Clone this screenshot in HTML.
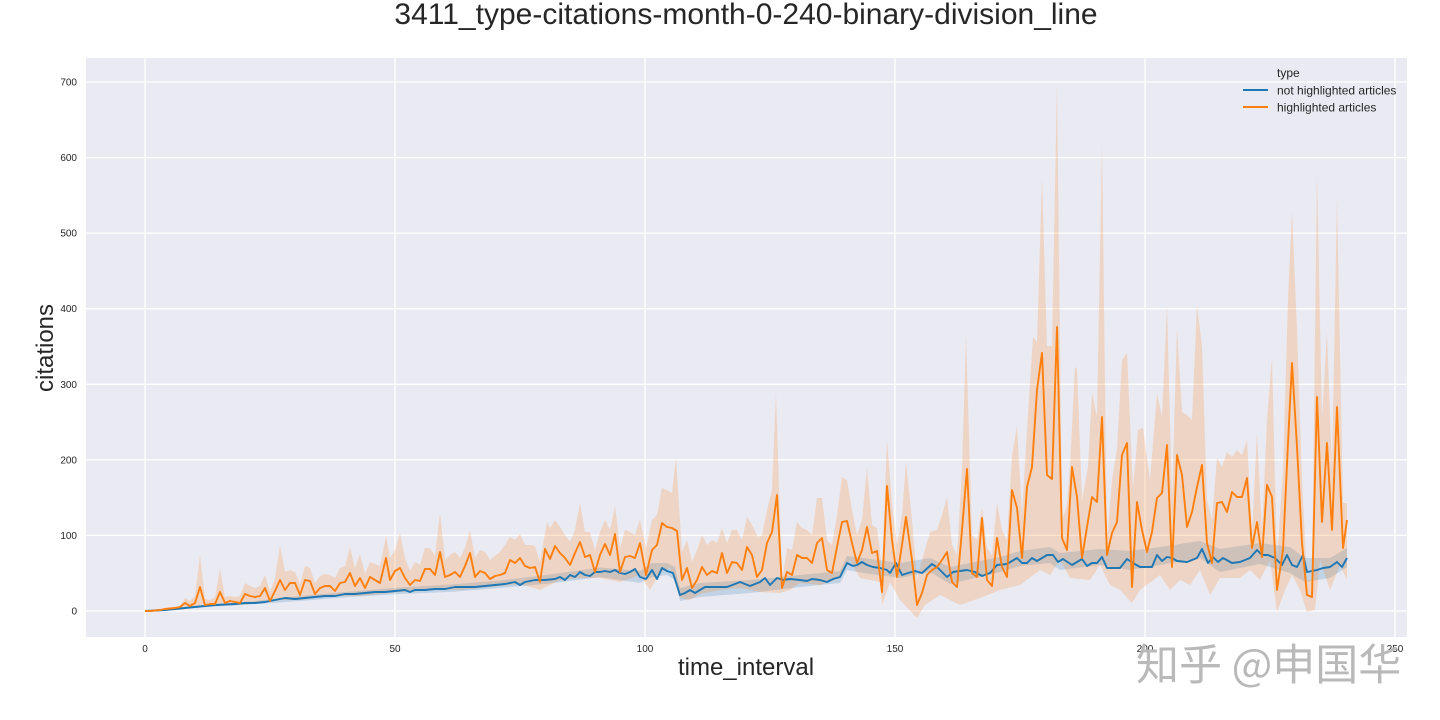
<!DOCTYPE html>
<html>
<head>
<meta charset="utf-8">
<style>
html,body{margin:0;padding:0;background:#fff;}
svg{display:block;}
text{font-family:"Liberation Sans",Arial,sans-serif;fill:#262626;}
</style>
</head>
<body>
<svg width="1440" height="720" viewBox="0 0 1440 720" xmlns="http://www.w3.org/2000/svg">
<rect x="0" y="0" width="1440" height="720" fill="#ffffff"/>
<!-- title -->
<text x="746" y="24" font-size="30" text-anchor="middle">3411_type-citations-month-0-240-binary-division_line</text>

<!-- axes background -->
<rect x="86" y="58" width="1321" height="579" fill="#EAEAF2"/>
<defs><clipPath id="cp"><rect x="86" y="58" width="1321" height="579"/></clipPath></defs>

<!-- grid -->
<g stroke="#ffffff" stroke-width="1.3">
<line x1="86" x2="1407" y1="611" y2="611"/>
<line x1="86" x2="1407" y1="535.4" y2="535.4"/>
<line x1="86" x2="1407" y1="459.9" y2="459.9"/>
<line x1="86" x2="1407" y1="384.3" y2="384.3"/>
<line x1="86" x2="1407" y1="308.7" y2="308.7"/>
<line x1="86" x2="1407" y1="233.2" y2="233.2"/>
<line x1="86" x2="1407" y1="157.6" y2="157.6"/>
<line x1="86" x2="1407" y1="82" y2="82"/>
<line y1="58" y2="637" x1="145" x2="145"/>
<line y1="58" y2="637" x1="395" x2="395"/>
<line y1="58" y2="637" x1="645" x2="645"/>
<line y1="58" y2="637" x1="895" x2="895"/>
<line y1="58" y2="637" x1="1145" x2="1145"/>
<line y1="58" y2="637" x1="1395" x2="1395"/>
</g>

<g clip-path="url(#cp)">
<!-- blue band -->
<polygon fill="#1f77b4" fill-opacity="0.2" points="145,611 200,605.5 250,601.5 300,596 350,591.5 400,587.5 450,584.5 500,580.5 550,574.5 600,567.5 640,571 652,563 667,563 675,567 680,588 700,583 750,580 800,575 840,571 847,556 870,559 900,563 930,558 950,567 1000,557 1020,551 1050,547 1060,553 1100,549 1130,551 1160,547 1200,541 1220,549 1260,543 1290,547 1305,558 1330,558 1347,548 1347,567 1330,578 1305,582 1290,573 1260,564 1220,572 1200,558 1160,565 1130,570 1100,565 1060,570 1050,563 1020,566 1000,572 950,584 930,572 900,578 870,574 847,570 840,583 800,587 750,593 700,597 680,601 675,580 667,575 652,577 640,583 600,577 550,583.5 500,588 450,592 400,594 350,597 300,601 250,604.5 200,607.5 145,611"/>

<!-- orange band -->
<polygon fill="#ff7f0e" fill-opacity="0.2" points="145,611 180,606 185,598 190,601 195,596 200,555 205,599 210,600 215,597 220,569 225,597 230,596 235,597 240,596 245,583 250,586 255,588 260,586 265,575 270,592 275,578 280,545 285,572 290,570 295,572 300,584 305,566 310,568 315,583 320,576 325,574 330,575 335,578 340,568 345,566 350,547 355,568 360,554 365,574 370,562 375,564 380,566 386,536 390,558 395,550 400,533 405,558 410,571 415,562 420,565 425,548 430,548 435,556 440,513 445,560 450,555 455,552 460,558 465,548 470,530 475,558 480,550 485,552 490,560 495,556 500,552 505,545 510,537 515,540 520,534 525,545 530,545 535,546 540,562 547,522 550,528 555,520 560,527 565,535 570,542 575,530 580,503 585,532 590,532 595,550 600,532 605,520 610,530 615,506 620,548 625,530 630,532 635,535 640,519 646,548 652,520 657,515 662,488 667,490 672,493 676,457 682,552 687,540 692,562 697,550 702,535 707,545 712,540 717,543 722,528 727,543 732,530 737,530 742,540 747,517 752,525 758,537 762,535 767,510 772,490 776,393 782,582 787,548 792,550 797,522 802,528 807,530 812,535 817,498 822,498 827,540 832,545 837,515 842,477 847,480 852,510 857,535 862,520 867,468 872,525 877,528 882,570 887,440 892,505 897,545 902,515 906,462 912,520 917,580 922,560 930,532 937,530 942,515 947,497 952,545 957,555 962,470 966,336 972,535 977,540 982,508 987,548 992,555 997,503 1002,530 1007,540 1012,456 1017,426 1022,515 1027,430 1033,337 1037,342 1042,178 1047,346 1052,346 1057,83 1062,520 1067,505 1070,467 1075,367 1077,369 1082,500 1088,467 1092,392 1097,417 1102,144 1107,542 1112,480 1117,449 1122,360 1127,353 1133,489 1138,430 1143,428 1150,480 1157,394 1162,417 1167,306 1172,500 1177,328 1182,412 1187,415 1192,420 1197,305 1202,347 1207,500 1212,520 1217,458 1222,467 1227,452 1232,457 1237,450 1242,455 1247,440 1252,533 1257,433 1262,533 1267,420 1272,358 1277,560 1283,470 1288,300 1292,211 1297,330 1302,480 1307,580 1312,580 1317,173 1322,420 1327,332 1332,470 1337,200 1343,503 1347,503 1347,580 1340,565 1330,590 1320,560 1315,610 1307,612 1300,590 1292,575 1285,590 1277,612 1270,560 1260,580 1250,570 1240,578 1220,578 1210,595 1200,570 1190,585 1180,580 1170,590 1160,575 1140,590 1132,603 1120,590 1110,585 1100,565 1090,580 1070,578 1060,560 1050,575 1040,570 1020,585 1000,590 980,598 960,605 940,595 925,605 917,618 900,600 890,582 882,605 880,582 860,578 850,560 840,578 820,585 800,583 790,590 780,593 760,592 740,588 720,590 700,594 690,600 680,598 670,568 660,572 650,590 640,575 620,582 600,578 580,578 560,580 540,590 520,584 500,586 480,588 460,590 440,589 420,591 400,592 380,594 360,596 340,596 320,597 300,600 280,600 260,603 240,605 220,605 200,606 180,610 145,611"/>

<!-- blue line -->
<polyline fill="none" stroke="#1f77b4" stroke-width="1.9" stroke-linejoin="round" points="145,611 155,610.5 165,610 175,609 185,608 195,607 205,606 215,605 225,604.5 235,604 245,603 255,603 265,602 275,600 285,598 295,599 305,598 315,597 325,596 335,596 345,594 355,594 365,593 375,592 385,592 395,591 405,590 410,592 415,590 425,590 435,589 445,589 455,587 465,587 475,587 485,586 495,585 505,584 515,582 520,585 525,582 535,580 545,580 555,579 560,577 565,580 570,575 575,577 580,572 585,575 590,576 595,572 600,572 605,571 610,572 615,570 620,573 625,574 630,572 635,569 640,577 646,579 652,570 657,579 662,568 667,571 673,573 680,595 685,593 690,590 695,593 700,590 705,587 715,587 727,587 735,584 740,582 745,584 750,586 755,584 760,582 765,578 770,585 777,578 783,580 790,579 800,580 807,581 812,579 820,580 827,582 833,579 840,577 847,563 853,566 857,565 862,562 867,565 873,567 880,568 887,570 890,573 896,563 902,575 908,573 915,571 922,573 932,564 938,568 947,577 953,572 967,570 975,572 982,576 990,573 997,565 1007,564 1017,558 1022,563 1027,563 1032,558 1037,561 1047,555 1053,555 1058,562 1063,559 1072,565 1082,559 1087,566 1092,563 1097,563 1102,557 1107,568 1120,568 1127,559 1133,563 1140,567 1147,567 1152,567 1157,555 1162,561 1167,557 1172,558 1177,561 1187,562 1197,558 1202,549 1208,563 1213,557 1218,562 1223,558 1232,563 1240,562 1250,558 1257,550 1262,555 1268,555 1275,558 1282,565 1287,555 1292,565 1297,567 1303,555 1307,572 1317,570 1323,568 1330,567 1337,562 1342,567 1347,558"/>

<!-- orange line -->
<polyline fill="none" stroke="#ff7f0e" stroke-width="1.9" stroke-linejoin="round" points="145,611 150,611 155,610.5 160,610 165,609 170,608.5 175,608 180,607 185,603 190,606 195,603 200,587 205,605 210,604 215,604 220,592 225,603 230,601 235,602 240,603 245,594 250,596 255,597 260,596 265,588 270,601 275,591 280,580 285,590 290,583 295,583 300,595 305,580 310,581 315,594 320,588 325,586 330,586 335,591 340,583 345,582 350,573 355,586 360,578 365,588 370,577 375,580 380,583 386,558 390,580 395,571 400,568 405,578 410,585 415,580 420,581 425,569 430,569 435,575 440,552 445,577 450,575 455,572 460,577 465,566 470,553 475,577 480,571 485,573 490,579 495,576 500,575 505,573 510,560 515,563 520,558 525,566 530,568 535,567 540,582 545,549 550,559 555,546 560,553 565,558 570,565 575,553 580,542 585,557 590,555 595,572 600,555 605,544 610,555 615,534 620,572 625,557 630,556 635,558 640,543 646,575 652,550 657,545 662,523 667,527 672,528 677,531 682,580 687,568 692,588 697,580 702,567 707,575 712,571 717,573 722,553 727,573 732,562 737,563 742,570 747,547 752,555 757,577 762,570 767,543 772,532 777,495 782,588 787,572 792,575 797,555 802,558 807,558 812,563 817,543 822,538 827,570 832,573 837,547 842,522 847,521 852,543 857,563 862,550 867,527 872,553 877,551 882,592 887,486 892,540 897,577 902,545 906,517 912,560 917,605 922,593 927,575 932,570 937,567 942,560 947,552 952,582 957,587 962,530 967,469 972,573 977,577 982,518 987,580 992,586 997,538 1002,567 1007,577 1012,490 1017,508 1022,558 1027,487 1032,467 1037,390 1042,353 1047,475 1052,479 1057,327 1062,538 1067,550 1072,467 1077,497 1082,558 1087,527 1092,497 1097,502 1102,417 1107,555 1112,533 1117,522 1122,455 1127,443 1132,587 1137,502 1142,530 1147,552 1152,532 1157,498 1162,493 1167,445 1172,567 1177,455 1182,475 1187,527 1192,512 1197,487 1202,465 1207,543 1212,563 1217,503 1222,502 1227,512 1232,492 1237,497 1242,497 1247,478 1252,548 1257,522 1262,557 1267,485 1272,497 1277,590 1283,550 1288,443 1292,363 1297,447 1302,543 1307,595 1312,597 1317,397 1322,522 1327,443 1332,530 1337,407 1343,548 1347,520"/>
</g>

<!-- y tick labels -->
<g font-size="10" text-anchor="end">
<text x="77" y="614.5">0</text>
<text x="77" y="539">100</text>
<text x="77" y="463.4">200</text>
<text x="77" y="387.8">300</text>
<text x="77" y="312.2">400</text>
<text x="77" y="236.7">500</text>
<text x="77" y="161.1">600</text>
<text x="77" y="85.5">700</text>
</g>
<!-- x tick labels -->
<g font-size="10" text-anchor="middle">
<text x="145" y="652">0</text>
<text x="395" y="652">50</text>
<text x="645" y="652">100</text>
<text x="895" y="652">150</text>
<text x="1145" y="652">200</text>
<text x="1395" y="652">250</text>
</g>

<!-- axis labels -->
<text x="746" y="675" font-size="24" text-anchor="middle">time_interval</text>
<text transform="translate(53,348) rotate(-90)" font-size="24" text-anchor="middle">citations</text>

<!-- legend -->
<text x="1277" y="77" font-size="12">type</text>
<line x1="1243" x2="1268" y1="90" y2="90" stroke="#1f77b4" stroke-width="1.9"/>
<text x="1277" y="94.5" font-size="12">not highlighted articles</text>
<line x1="1243" x2="1268" y1="107" y2="107" stroke="#ff7f0e" stroke-width="1.9"/>
<text x="1277" y="111.5" font-size="12">highlighted articles</text>

<!-- watermark -->
<text x="1136" y="680" font-size="43" style="font-family:'Noto Sans CJK SC','WenQuanYi Zen Hei',sans-serif;fill:#b9b9b9;">知乎 @申国华</text>
</svg>
</body>
</html>
